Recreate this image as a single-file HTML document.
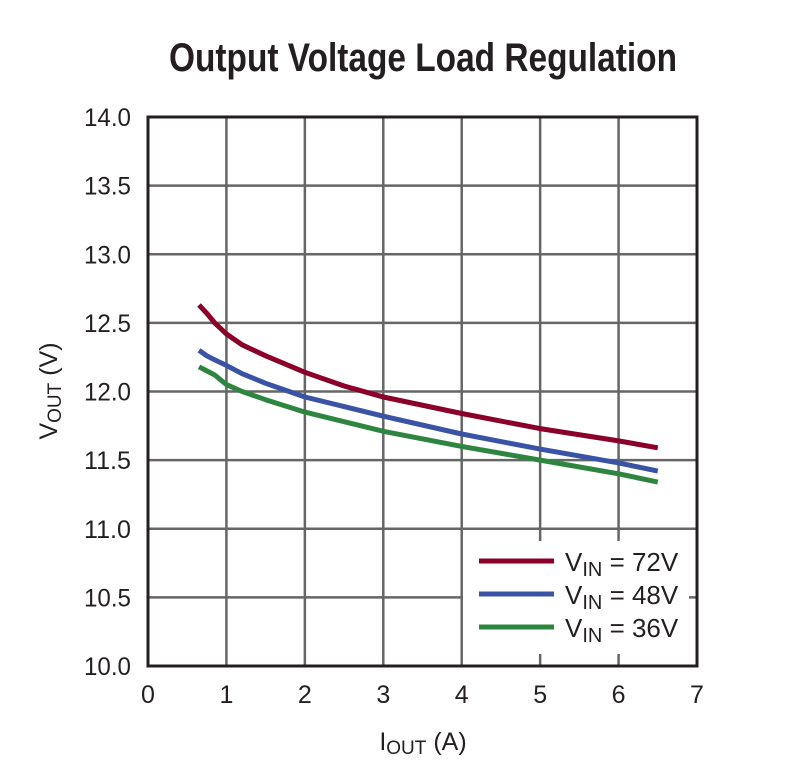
<!DOCTYPE html>
<html><head><meta charset="utf-8"><style>
html,body{margin:0;padding:0;background:#fff;}
svg{display:block;font-family:"Liberation Sans",Arial,sans-serif;}
</style></head><body>
<svg id="chart" width="797" height="772" viewBox="0 0 797 772">
<text x="423" y="71" text-anchor="middle" font-size="40" font-weight="bold" fill="#231f20" textLength="508" lengthAdjust="spacingAndGlyphs">Output Voltage Load Regulation</text>
<g id="grid"></g>
<g id="ticks"></g>
<g id="series"></g>
<rect x="463" y="541" width="226" height="113" fill="#fff"/>
<g id="legend"></g>
<rect x="148" y="117" width="549" height="549" fill="none" stroke="#231f20" stroke-width="3"/>
<text x="423" y="750" text-anchor="middle" font-size="25" fill="#231f20">I<tspan font-size="19" dy="4">OUT</tspan><tspan dy="-4"> (A)</tspan></text>
<text transform="translate(57,391) rotate(-90)" text-anchor="middle" font-size="25" fill="#231f20">V<tspan font-size="19" dy="4">OUT</tspan><tspan dy="-4"> (V)</tspan></text>
</svg>
<script>
const xTicks=[0,1,2,3,4,5,6,7];
const yTicks=[10.0,10.5,11.0,11.5,12.0,12.5,13.0,13.5,14.0];
const xs=[0.65,0.75,0.85,1.0,1.2,1.5,2,2.5,3,4,5,6,6.5];
const v72=[12.63,12.57,12.50,12.42,12.34,12.26,12.14,12.04,11.96,11.84,11.73,11.64,11.59];
const v48=[12.30,12.26,12.23,12.19,12.13,12.06,11.96,11.89,11.82,11.69,11.58,11.48,11.42];
const v36=[12.18,12.15,12.12,12.05,12.00,11.94,11.85,11.78,11.71,11.60,11.50,11.40,11.34];
const seriesNames=["VIN = 72V","VIN = 48V","VIN = 36V"];
const seriesVals=[v72,v48,v36];
const colors=["#8b0029","#3a53a4","#2e8540"];
const X=v=>148+v*549/7, Y=v=>666-(v-10)*549/4;
const NS="http://www.w3.org/2000/svg";
function mk(t,a,p){const e=document.createElementNS(NS,t);for(const k in a)e.setAttribute(k,a[k]);p.appendChild(e);return e;}
const grid=document.getElementById('grid'),ticks=document.getElementById('ticks');
xTicks.forEach(t=>{
 if(t>0&&t<7){const l=mk('line',{x1:X(t),x2:X(t),y1:117,y2:666,stroke:'#666','stroke-width':2.5},grid);
 
 }
 const tx=mk('text',{x:X(t),y:703,'text-anchor':'middle','font-size':25,fill:'#231f20'},ticks);tx.textContent=t;
 
 
});
yTicks.forEach(t=>{
 if(t>10&&t<14){const l=mk('line',{x1:148,x2:697,y1:Y(t),y2:Y(t),stroke:'#666','stroke-width':2.5},grid);
 
 }
 const tx=mk('text',{x:131,y:Y(t)+9,'text-anchor':'end','font-size':25,fill:'#231f20',textLength:47,lengthAdjust:'spacingAndGlyphs'},ticks);tx.textContent=t.toFixed(1);
 
 
});
const sg=document.getElementById('series');
seriesVals.forEach((vals,i)=>{
 const d=vals.map((v,j)=>(j?'L':'M')+X(xs[j]).toFixed(1)+','+Y(v).toFixed(1)).join(' ');
 const p=mk('path',{d:d,fill:'none',stroke:colors[i],'stroke-width':5,'stroke-linejoin':'round'},sg);
 
 
});
const lg=document.getElementById('legend');
seriesNames.forEach((n,i)=>{
 const y=561+i*33;
 const l=mk('line',{x1:479,x2:554,y1:y,y2:y,stroke:colors[i],'stroke-width':5},lg);
 
 
 const t=mk('text',{x:565,y:y+10,'font-size':26,fill:'#231f20'},lg);
 
 
 const parts=n.split(' ');
 t.innerHTML='V<tspan font-size="20" dy="5">IN</tspan><tspan dy="-5"> = '+parts[2]+'</tspan>';
});
</script>
</body></html>
